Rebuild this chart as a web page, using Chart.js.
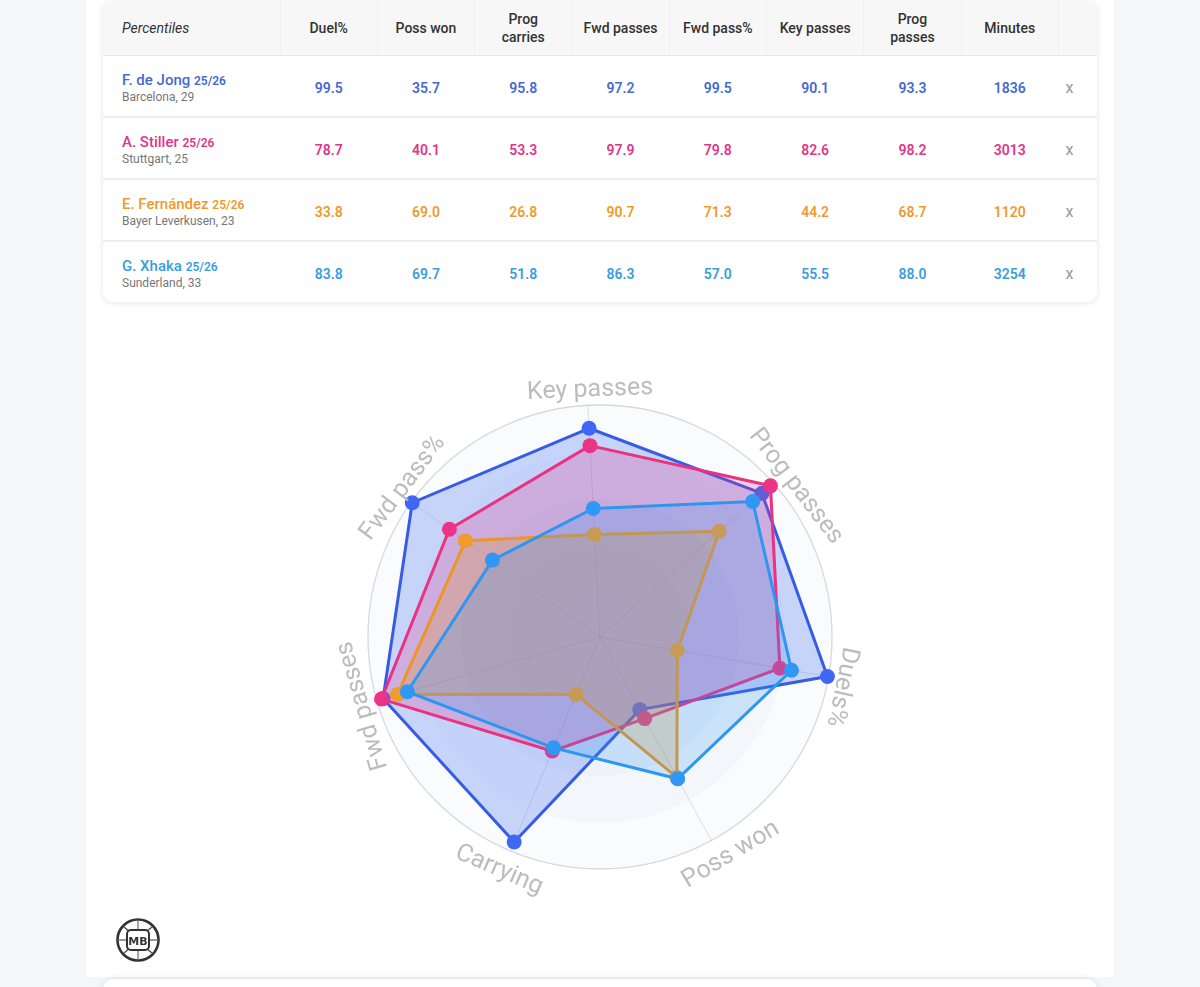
<!DOCTYPE html>
<html>
<head>
<meta charset="utf-8">
<script src="https://cdn.jsdelivr.net/npm/chart.js@4"></script>
<style>
  html,body{margin:0;padding:0;}
  body{width:1200px;height:987px;background:#f4f6fa;font-family:Roboto,"Noto Sans",Arial,sans-serif;position:relative;overflow:hidden;}
  #panel{position:absolute;left:86px;top:-10px;width:1028px;height:987px;background:#ffffff;}
  #card{position:absolute;left:103px;top:0px;width:994px;height:302px;background:#fff;border-radius:10px;box-shadow:0 1px 6px rgba(0,0,0,0.10);overflow:hidden;}
  table{border-collapse:collapse;width:994px;table-layout:fixed;}
  th{height:55px;background:#f7f7f7;font-weight:500;font-size:14px;color:#333;text-align:center;line-height:18px;border-bottom:1px solid #e6e6e6;border-right:1px solid #f0f0f0;padding:0;}
  th.first{text-align:left;padding-left:19px;font-style:italic;font-weight:400;color:#333;}
  th.last{border-right:none;}
  td{height:57px;padding:3px 0 0 0;border-bottom:2px solid #eeeeee;text-align:center;font-size:14px;font-weight:600;}
  tr:last-child td{border-bottom:none;}
  td.name{text-align:left;padding-left:19px;}
  .pn{font-size:15px;font-weight:500;line-height:17px;}
  .ss{font-size:12px;font-weight:600;}
  .club{font-size:12px;color:#777;font-weight:400;line-height:14px;}
  td.x{color:#999;font-weight:400;font-size:16px;text-align:left;padding-left:7px;}
  #chartBox{position:absolute;left:0;top:337px;width:1200px;height:600px;}
  #logo{position:absolute;left:115px;top:917px;width:46px;height:46px;}
  #card2{position:absolute;left:103px;top:979px;width:994px;height:60px;background:#fff;border-radius:10px;box-shadow:0 -1px 6px rgba(0,0,0,0.10);}
</style>
</head>
<body>
<div id="panel"></div>
<div id="card"><table id="tbl"></table></div>
<div id="chartBox"><canvas id="c"></canvas></div>
<svg id="logo" viewBox="0 0 46 46">
  <circle cx="23" cy="23" r="20.5" fill="#fff" stroke="#333" stroke-width="2.6"/>
  <path d="M23 3 V13 M23 33 V43 M3 23 H11 M35 23 H43" stroke="#777" stroke-width="1.3"/>
  <path d="M9 10 L15 15 M37 10 L31 15 M9 36 L15 31 M37 36 L31 31" stroke="#555" stroke-width="1.6"/>
  <rect x="12" y="13" width="22" height="20" rx="4" fill="#fff" stroke="#333" stroke-width="2"/>
  <text x="23" y="27.5" text-anchor="middle" font-family="DejaVu Sans" font-weight="bold" font-size="11" fill="#333">MB</text>
</svg>
<div id="card2"></div>
<script>
// ---- data ----
const tableColumns = ["Duel%", "Poss won", "Prog<br>carries", "Fwd passes", "Fwd pass%", "Key passes", "Prog<br>passes", "Minutes"];
const radarLabels = ["Key passes", "Prog passes", "Duels%", "Poss won", "Carrying", "Fwd passes", "Fwd pass%"];
const playerNames = ["F. de Jong", "A. Stiller", "E. Fernández", "G. Xhaka"];
const playerSeasons = ["25/26", "25/26", "25/26", "25/26"];
const playerClubs = ["Barcelona, 29", "Stuttgart, 25", "Bayer Leverkusen, 23", "Sunderland, 33"];
// order: Duel%, Poss won, Prog carries, Fwd passes, Fwd pass%, Key passes, Prog passes
const deJong    = [99.5, 35.7, 95.8, 97.2, 99.5, 90.1, 93.3];
const stiller   = [78.7, 40.1, 53.3, 97.9, 79.8, 82.6, 98.2];
const fernandez = [33.8, 69.0, 26.8, 90.7, 71.3, 44.2, 68.7];
const xhaka     = [83.8, 69.7, 51.8, 86.3, 57.0, 55.5, 88.0];
const minutes   = [1836, 3013, 1120, 3254];
// radar axis -> table column index
const radarOrder = [5, 6, 0, 1, 2, 3, 4];

const players = [deJong, stiller, fernandez, xhaka];
const textColors = ["#4669d2", "#e0358a", "#ef9a2c", "#3a9de0"];
const lineColors = ["rgb(55,92,228)", "rgb(232,50,130)", "rgb(236,150,42)", "rgb(45,150,240)"];
const pointColors = ["rgb(62,104,244)", "rgb(236,52,134)", "rgb(240,155,45)", "rgb(48,152,244)"];
const fillColors = ["rgba(72,112,246,0.28)", "rgba(232,50,130,0.23)", "rgba(226,145,40,0.26)", "rgba(45,150,240,0.21)"];

// ---- table ----
const tbl = document.getElementById('tbl');
let html = '<colgroup><col style="width:177px">' + tableColumns.map(()=>'<col style="width:97.3px">').join('') + '<col></colgroup>';
html += '<tr><th class="first">Percentiles</th>' + tableColumns.map(c=>'<th>'+c+'</th>').join('') + '<th class="last"></th></tr>';
players.forEach((p,i)=>{
  html += '<tr><td class="name"><div class="pn" style="color:'+textColors[i]+'">'+playerNames[i]+' <span class="ss">'+playerSeasons[i]+'</span></div><div class="club">'+playerClubs[i]+'</div></td>';
  p.forEach(v=>{ html += '<td style="color:'+textColors[i]+'">'+v.toFixed(1)+'</td>'; });
  html += '<td style="color:'+textColors[i]+'">'+minutes[i]+'</td><td class="x">x</td></tr>';
});
tbl.innerHTML = html;

// ---- radar ----
const START_ANGLE = -3;
const labelNudge = [0.7, 4, 1.8, -2.3, 0.7, -0.3, 1.5]; // degrees, label placement only
const ringPlugin = {
  id: 'rings',
  beforeDraw(chart){
    const s = chart.scales.r; const ctx = chart.ctx;
    ctx.save();
    [100, 80, 60, 40, 20].forEach(v=>{
      const d = s.getDistanceFromCenterForValue(v);
      ctx.beginPath(); ctx.arc(s.xCenter, s.yCenter, d, 0, Math.PI*2);
      ctx.fillStyle = 'rgba(95,145,215,0.04)'; ctx.fill();
    });
    ctx.beginPath(); ctx.arc(s.xCenter, s.yCenter, s.getDistanceFromCenterForValue(100), 0, Math.PI*2);
    ctx.strokeStyle = '#d6d9de'; ctx.lineWidth = 1.3; ctx.stroke();
    ctx.restore();
  },
  afterDraw(chart){
    const s = chart.scales.r; const ctx = chart.ctx;
    const labels = chart.data.labels; const n = labels.length;
    const outer = s.getDistanceFromCenterForValue(100);
    ctx.save();
    ctx.font = '400 25px Roboto';
    ctx.fillStyle = '#bcbcbc';
    ctx.textAlign = 'center'; ctx.textBaseline = 'middle';
    labels.forEach((lab, i)=>{
      const a = (i * 360/n + START_ANGLE + labelNudge[i]) * Math.PI/180;
      let deg = a*180/Math.PI; deg = ((deg%360)+360)%360;
      const flip = deg > 110 && deg < 250;
      const R = outer + (flip ? 20 : 15);
      const x = s.xCenter + R*Math.sin(a);
      const y = s.yCenter - R*Math.cos(a);
      ctx.save();
      ctx.translate(x, y);
      ctx.rotate(flip ? a - Math.PI : a);
      ctx.fillText(lab, 0, flip ? 2 : 0);
      ctx.restore();
    });
    ctx.restore();
  }
};

const orders = [4, 3, 2, 1];
const datasets = players.map((p,i)=>({
  label: playerNames[i],
  data: radarOrder.map(k=>p[k]),
  borderColor: lineColors[i],
  backgroundColor: fillColors[i],
  pointBackgroundColor: pointColors[i],
  pointBorderColor: pointColors[i],
  pointBorderWidth: 0,
  pointRadius: 7.5,
  pointHoverRadius: 7.5,
  borderWidth: 3,
  fill: true,
  tension: 0,
  order: orders[i],
  clip: false
}));

new Chart(document.getElementById('c'), {
  type: 'radar',
  data: { labels: radarLabels, datasets },
  options: {
    responsive: true,
    maintainAspectRatio: false,
    animation: false,
    layout: { padding: { top: 68, bottom: 68, left: 0, right: 0 } },
    plugins: { legend: { display: false }, tooltip: { enabled: false } },
    scales: {
      r: {
        min: 0, max: 100,
        startAngle: START_ANGLE,
        ticks: { display: false, stepSize: 20 },
        grid: { display: false },
        angleLines: { display: true, color: 'rgba(0,0,0,0.11)', lineWidth: 1 },
        pointLabels: { display: false }
      }
    }
  },
  plugins: [ringPlugin]
});
</script>
</body>
</html>
